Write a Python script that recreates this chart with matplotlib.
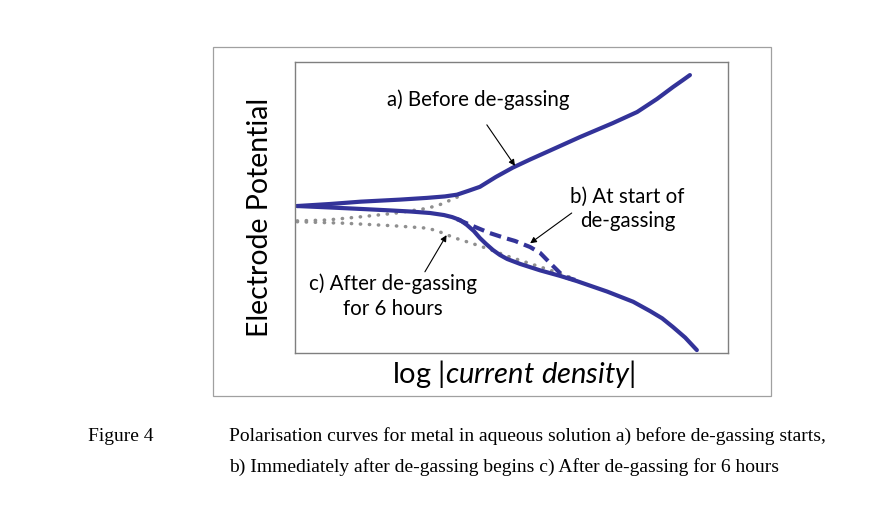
import matplotlib
matplotlib.use("Agg")
import matplotlib.pyplot as plt
from matplotlib.patches import Rectangle

plt.rcParams["font.family"] = ["Lato", "DejaVu Sans"]
plt.rcParams["mathtext.fontset"] = "custom"
plt.rcParams["mathtext.rm"] = "Lato"
plt.rcParams["mathtext.it"] = "Lato:italic"

# curve a) before de-gassing, anodic branch
anodic_x = [0.05, 0.81, 1.52, 2.42, 3.05, 3.46, 3.74, 4.00, 4.27, 4.64, 5.03, 5.43, 5.82,
            6.58, 7.34, 7.90, 8.36, 8.73, 8.96, 9.12]
anodic_y = [5.05, 5.12, 5.20, 5.27, 5.33, 5.38, 5.44, 5.57, 5.71, 6.05, 6.37, 6.65, 6.91,
            7.42, 7.90, 8.28, 8.73, 9.14, 9.38, 9.55]

# curve a) cathodic branch
cathodic_x = [0.05, 0.81, 1.52, 2.19, 2.68, 3.12, 3.44, 3.63, 3.81, 3.97, 4.13, 4.27, 4.41,
              4.57, 4.73, 4.90, 5.20, 5.66, 6.12, 6.51, 7.21, 7.81, 8.20, 8.48, 8.73, 9.01, 9.28]
cathodic_y = [5.05, 5.00, 4.95, 4.90, 4.86, 4.81, 4.74, 4.67, 4.57, 4.40, 4.19, 3.95, 3.75,
              3.54, 3.37, 3.23, 3.06, 2.84, 2.65, 2.47, 2.11, 1.76, 1.44, 1.19, 0.89, 0.53, 0.10]

# b) at start of de-gassing
start_x = [3.74, 4.16, 4.50, 4.85, 5.08, 5.43, 5.66, 5.89, 6.12, 6.28, 6.47]
start_y = [4.60, 4.33, 4.12, 3.95, 3.85, 3.64, 3.44, 3.09, 2.75, 2.59, 2.51]

# c) after de-gassing for 6 hours
after_up_x = [0.05, 0.74, 1.52, 2.29, 3.05, 3.35, 3.60, 3.81]
after_up_y = [4.54, 4.57, 4.68, 4.80, 4.97, 5.10, 5.26, 5.40]
after_low_x = [0.05, 1.13, 2.29, 3.05, 3.30, 3.49, 3.76, 4.06, 4.50, 4.90, 5.31, 5.66, 6.12, 6.47]
after_low_y = [4.51, 4.46, 4.37, 4.29, 4.19, 4.07, 3.92, 3.78, 3.56, 3.33, 3.13, 2.96, 2.73, 2.54]

caption_lines = [
    "Polarisation curves for metal in aqueous solution a) before de-gassing starts,",
    "b) Immediately after de-gassing begins c) After de-gassing for 6 hours",
]

blue = "#333399"
grey = "#8f8f8f"

fig = plt.figure(figsize=(8.83, 5.16), dpi=100)
fig.patches.append(Rectangle((0.2416, 0.2326), 0.6316, 0.6758, transform=fig.transFigure,
                             fill=False, edgecolor="#a0a0a0", lw=0.9))

ax = fig.add_axes([0.3341, 0.3159, 0.4904, 0.5640])
ax.set_xlim(0, 10)
ax.set_ylim(0, 10)
ax.set_xticks([])
ax.set_yticks([])
for s in ax.spines.values():
    s.set_color("#7f7f7f")
    s.set_linewidth(1.0)

dots = (0, (0.1, 2.5))
ax.plot(after_up_x, after_up_y, color=grey, lw=2.5, linestyle=dots, dash_capstyle="round")
ax.plot(after_low_x, after_low_y, color=grey, lw=2.5, linestyle=dots, dash_capstyle="round")
ax.plot(start_x, start_y, color=blue, lw=3.0, linestyle=(0, (2.8, 1.5)))
ax.plot(anodic_x, anodic_y, color=blue, lw=3.0, solid_capstyle="round", solid_joinstyle="round")
ax.plot(cathodic_x, cathodic_y, color=blue, lw=3.0, solid_capstyle="round", solid_joinstyle="round")

arrow = dict(arrowstyle="-|>", color="black", lw=0.8, mutation_scale=9, shrinkA=0, shrinkB=0)
ax.annotate("", xy=(5.08, 6.43), xytext=(4.43, 7.84), arrowprops=arrow)
ax.annotate("", xy=(5.43, 3.77), xytext=(6.39, 4.81), arrowprops=arrow)
ax.annotate("", xy=(3.50, 4.05), xytext=(3.00, 2.79), arrowprops=arrow)

fs = 14.8
ax.text(4.24, 8.49, "a) Before de-gassing", fontsize=fs, ha="center", va="baseline")
ax.text(7.68, 5.16, "b) At start of", fontsize=fs, ha="center", va="baseline")
ax.text(7.68, 4.34, "de-gassing", fontsize=fs, ha="center", va="baseline")
ax.text(2.27, 2.16, "c) After de-gassing", fontsize=fs, ha="center", va="baseline")
ax.text(2.27, 1.31, "for 6 hours", fontsize=fs, ha="center", va="baseline")

fig.text(260 / 883, 1 - 217.5 / 516, "Electrode Potential", fontsize=20.4,
         rotation=90, ha="center", va="center")
fig.text(514 / 883, 1 - 383 / 516, r"log |$\mathit{current\ density|}$", fontsize=21,
         ha="center", va="baseline")

cap = dict(family=["Liberation Serif"], fontsize=14, va="baseline")
fig.text(88 / 883, 1 - 441 / 516, "Figure 4", ha="left", **cap)
fig.text(229 / 883, 1 - 441 / 516, caption_lines[0], ha="left", **cap)
fig.text(229 / 883, 1 - 472 / 516, caption_lines[1], ha="left", **cap)

fig.savefig("out.png", dpi=100)
